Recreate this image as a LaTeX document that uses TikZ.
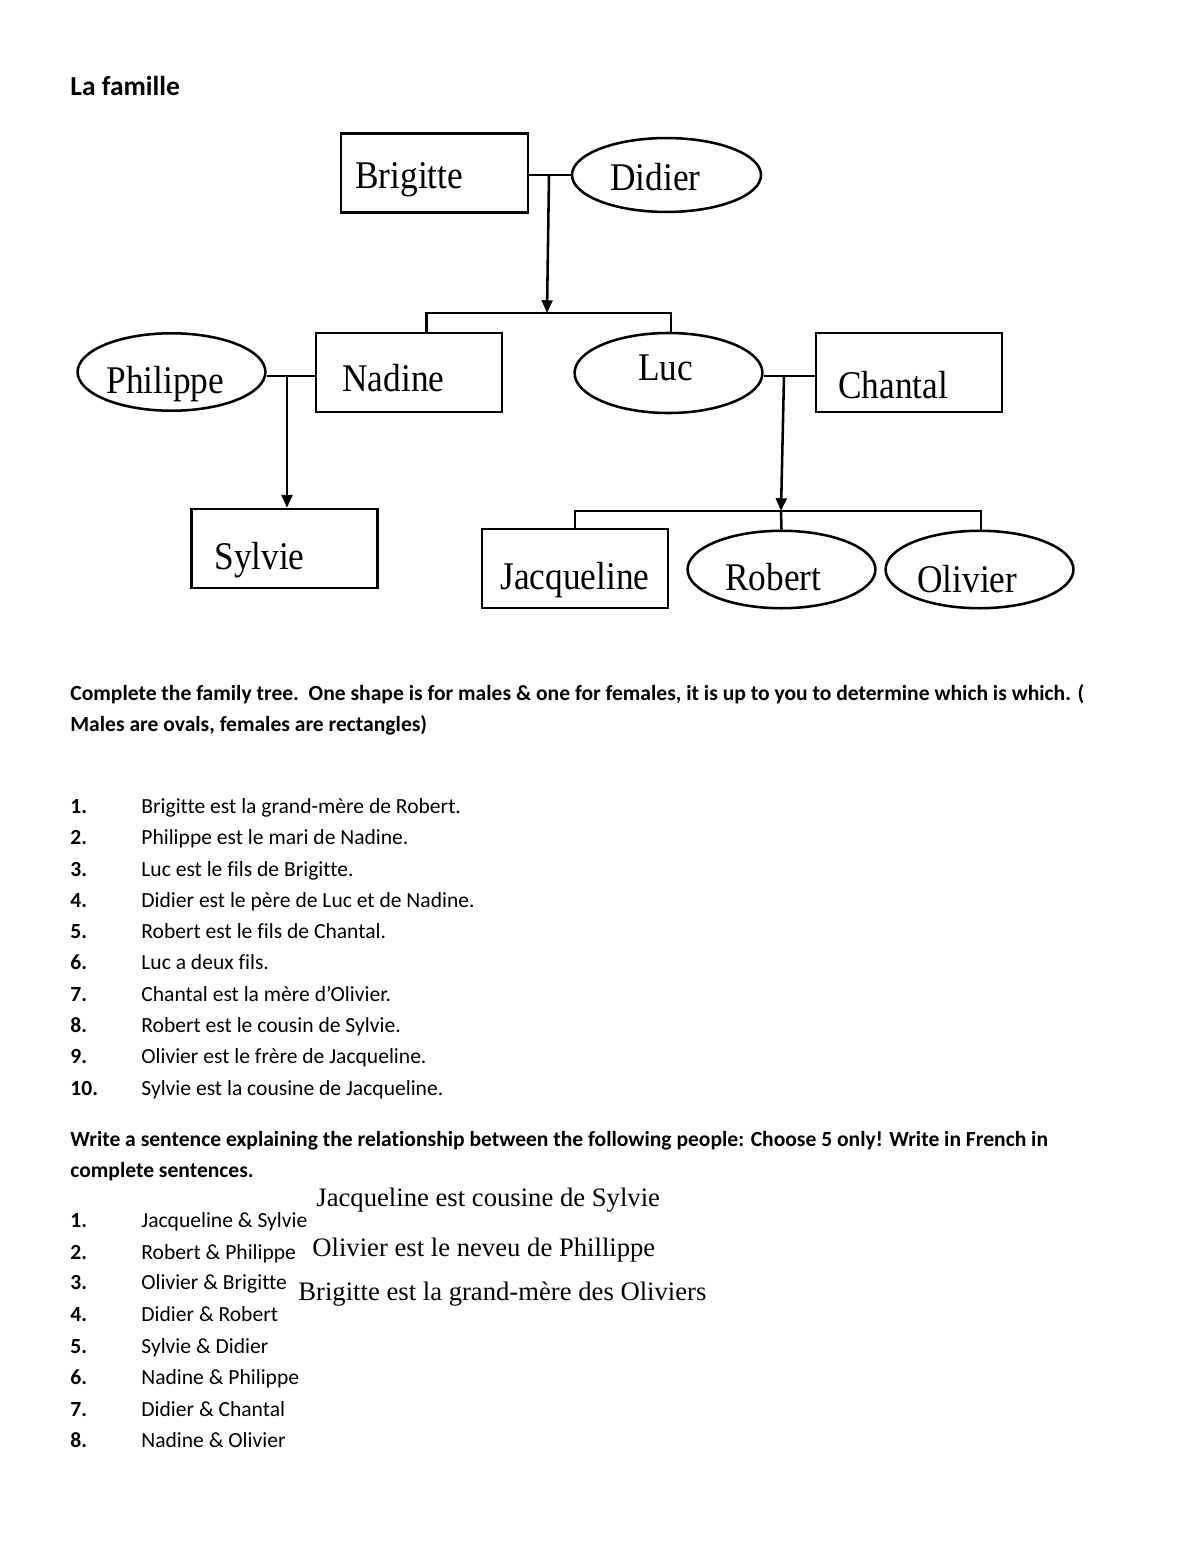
\documentclass[tikz,border=0pt]{standalone}
\usepackage{fontspec}
\setmainfont[Ligatures={NoCommon}]{Carlito}
\newfontfamily\treefont[FakeStretch=0.9]{Liberation Serif}
\newfontfamily\ansfont{Liberation Serif}
\usetikzlibrary{shapes.geometric,arrows.meta}
\begin{document}
\begin{tikzpicture}[x=0.51pt,y=-0.51pt,
  line/.style={line width=1.3pt},
  fem/.style={draw,line width=1.3pt,rectangle,minimum width=95pt,minimum height=40.3pt,inner sep=0pt},
  mal/.style={draw,line width=1.3pt,ellipse,minimum width=95.8pt,minimum height=39.5pt,inner sep=0pt},
  tname/.style={font=\treefont\fontsize{20}{22}\selectfont,anchor=base west,inner sep=0pt},
  arr/.style={line width=1.3pt,-{Triangle[width=5.5pt,length=6.5pt]}},
  body/.style={font=\fontsize{11}{13}\selectfont,anchor=base west,inner sep=0pt},
  bodyb/.style={font=\bfseries\fontsize{11}{13}\selectfont,anchor=base west,inner sep=0pt},
  ans/.style={font=\ansfont\fontsize{13.6}{15}\selectfont,anchor=base west,inner sep=0pt}]
\useasboundingbox[fill=white] (0,0) rectangle (1200,1553);

% tree shapes
\node[fem,minimum width=95.4pt] (Brig) at (434.5,173) {};
\node[mal,minimum width=96.4pt,minimum height=37.7pt] (Did) at (666.5,175) {};
\node[mal] (Phi) at (171.5,372) {};
\node[fem] (Nad) at (409,372.5) {};
\node[mal,minimum height=40.8pt] (Luc) at (668.5,373) {};
\node[fem] (Cha) at (909,372.5) {};
\node[fem] (Syl) at (284.5,548.5) {};
\node[fem] (Jac) at (575,568.5) {};
\node[mal] (Rob) at (781.5,569.5) {};
\node[mal] (Oli) at (979.5,569.5) {};

% tree names
\node[tname] (tBrig) at (355,189) {Brigitte};
\node[tname] (tDid) at (610,191) {Didier};
\node[tname] (tPhi) at (106,393) {Philippe};
\node[tname] (tNad) at (342,391) {Nadine};
\node[tname] (tLuc) at (638,380) {Luc};
\node[tname] (tCha) at (838,398) {Chantal};
\node[tname] (tSyl) at (214,569) {Sylvie};
\node[tname] (tJac) at (500,589) {Jacqueline};
\node[tname] (tRob) at (725,590) {Robert};
\node[tname] (tOli) at (917,592) {Olivier};

% connectors
\coordinate (m1) at (549,175);
\coordinate (b1) at (547,313);
\coordinate (m2) at (287,376);
\coordinate (m3) at (784,376);
\coordinate (b3) at (781,511);
\draw[line] (Brig.east |- m1) -- (Did.west);
\draw[arr] (m1) -- (b1);
\draw[line] ([xshift=9pt]Nad.north) |- (b1) -| ([xshift=1.2pt]Luc.north);
\draw[line] (Phi.east |- m2) -- (Nad.west |- m2);
\draw[arr] (m2) -- (m2 |- Syl.north);
\draw[line] (Luc.east |- m3) -- (Cha.west |- m3);
\draw[arr] (m3) -- (b3);
\draw[line] (Jac.north) |- (b3) -| ([xshift=0.8pt]Oli.north);
\draw[line] (b3) -- (Rob.north);

% texts
\node[bodyb,font=\bfseries\fontsize{14}{16}\selectfont] (title) at (70,96) {La famille};
\node[bodyb] (ins1) at (70,700) {Complete the family tree.\ \ One shape is for males \& one for females, it is up to you to determine which is which. (};
\node[bodyb] (ins2) at (70,731) {Males are ovals, females are rectangles)};

\foreach \n/\t/\y [count=\i] in {
 1./Brigitte est la grand-mère de Robert./813,
 2./Philippe est le mari de Nadine./844,
 3./Luc est le fils de Brigitte./876,
 4./Didier est le père de Luc et de Nadine./907,
 5./Robert est le fils de Chantal./938,
 6./Luc a deux fils./969,
 7./Chantal est la mère d’Olivier./1001,
 8./Robert est le cousin de Sylvie./1032,
 9./Olivier est le frère de Jacqueline./1063,
 10./Sylvie est la cousine de Jacqueline./1095}{
 \node[bodyb] (qn\i) at (70,\y) {\n};
 \node[body] (qt\i) at (141,\y) {\t};
}

\node[bodyb] (w1) at (70,1146) {Write a sentence explaining the relationship between the following people: Choose 5 only! Write in French in};
\node[bodyb] (w2) at (70,1177) {complete sentences.};

\foreach \n/\t/\y [count=\i] in {
 1./Jacqueline \& Sylvie/1227,
 2./Robert \& Philippe/1259,
 3./Olivier \& Brigitte/1289,
 4./Didier \& Robert/1321,
 5./Sylvie \& Didier/1353,
 6./Nadine \& Philippe/1384,
 7./Didier \& Chantal/1416,
 8./Nadine \& Olivier/1447}{
 \node[bodyb] (pn\i) at (70,\y) {\n};
 \node[body] (pt\i) at (141,\y) {\t};
}

\node[ans] (a1) at (316,1206) {Jacqueline est cousine de Sylvie};
\node[ans] (a2) at (312,1256) {Olivier est le neveu de Phillippe};
\node[ans] (a3) at (298,1300) {Brigitte est la grand-mère des Oliviers};
\end{tikzpicture}
\end{document}
